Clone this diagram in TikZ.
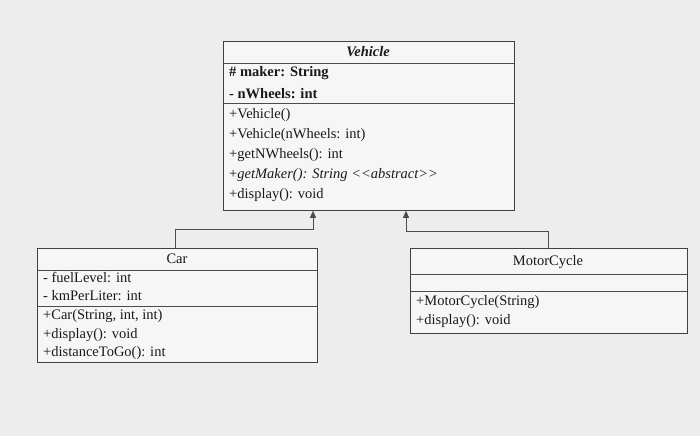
\documentclass[tikz,border=0pt]{standalone}
\usepackage{fontspec}
\setmainfont{Liberation Serif}
\usetikzlibrary{arrows.meta}
\begin{document}
\begin{tikzpicture}[x=1pt,y=-1pt,
  box/.style={draw=black!75,line width=0.8pt,fill=gray!7,inner sep=0pt},
  sep/.style={draw=black!70,line width=0.7pt},
  txt/.style={anchor=west,inner sep=0pt,font=\fontsize{14.5}{15}\selectfont,text=black!90},
  ttl/.style={inner sep=0pt,font=\fontsize{14.5}{15}\selectfont,text=black!90},
  inh/.style={draw=black!70,line width=0.8pt,-{Triangle[length=7pt,width=6pt]}}]
\useasboundingbox (0,0) rectangle (700,436);
\fill[gray!14] (0,0) rectangle (700,436);
% Vehicle
\node[box,minimum width=291pt,minimum height=169pt,anchor=north west] (veh) at (223,41) {};
\draw[sep] (223,63) -- (514,63);
\draw[sep] (223,103) -- (514,103);
\node[ttl,font=\fontsize{14.5}{15}\selectfont\itshape\bfseries] (vt) at (368,52) {Vehicle};
\node[txt,font=\fontsize{14.5}{15}\selectfont\bfseries] (v1) at (229,73) {\# maker: String};
\node[txt,font=\fontsize{14.5}{15}\selectfont\bfseries] (v2) at (229,94) {- nWheels: int};
\node[txt] (v3) at (229,115) {+Vehicle()};
\node[txt] (v4) at (229,135) {+Vehicle(nWheels: int)};
\node[txt] (v5) at (229,155) {+getNWheels(): int};
\node[txt] (v6) at (229,175) {+\textit{getMaker(): String <{}<abstract>{}>}};
\node[txt] (v7) at (229,195) {+display(): void};
% Car
\node[box,minimum width=280pt,minimum height=114pt,anchor=north west] (car) at (37,248) {};
\draw[sep] (37,270) -- (317,270);
\draw[sep] (37,306) -- (317,306);
\node[ttl] (ct) at (177,259) {Car};
\node[txt] (c1) at (43,277) {- fuelLevel: int};
\node[txt] (c2) at (43,296) {- kmPerLiter: int};
\node[txt] (c3) at (43,316) {+Car(String, int, int)};
\node[txt] (c4) at (43,335) {+display(): void};
\node[txt] (c5) at (43,353) {+distanceToGo(): int};
% MotorCycle
\node[box,minimum width=277pt,minimum height=85pt,anchor=north west] (mc) at (410,248) {};
\draw[sep] (410,274) -- (687,274);
\draw[sep] (410,291) -- (687,291);
\node[ttl] (mt) at (548,262) {MotorCycle};
\node[txt] (m1) at (416,302) {+MotorCycle(String)};
\node[txt] (m2) at (416,321) {+display(): void};
% connectors
\coordinate (cb) at (175,229);
\coordinate (ca) at (313,229);
\coordinate (mb) at (548,231);
\coordinate (ma) at (406,231);
\draw[inh] (car.north -| cb) -- (cb) -- (ca) -- (veh.south -| ca);
\draw[inh] (mc.north -| mb) -- (mb) -- (ma) -- (veh.south -| ma);
\end{tikzpicture}
\end{document}
